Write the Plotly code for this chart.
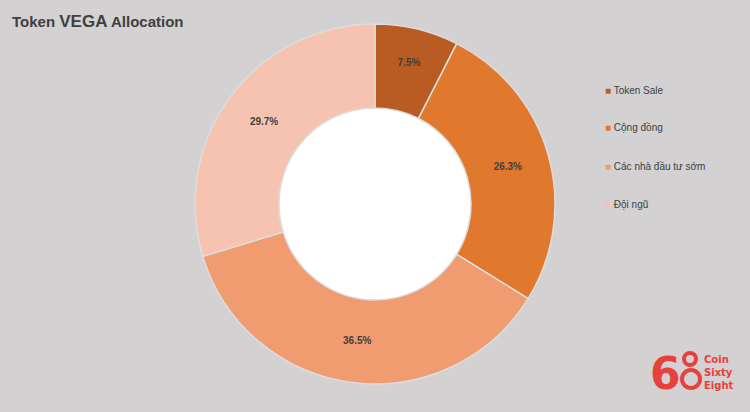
import plotly.graph_objects as go

labels = ["Token Sale", "Cộng đồng", "Các nhà đầu tư sớm", "Đội ngũ"]
values = [7.5, 26.3, 36.5, 29.7]
colors = ["#b85c24", "#e0782d", "#f19b70", "#f6c3b0"]

W, H = 750, 412
cx, cy, r, rh = 375, 204, 180, 96


def px(x):
    return x / W


def py(y):
    return (H - y) / H


fig = go.Figure(go.Pie(
    labels=labels, values=values, sort=False, direction="clockwise", rotation=0,
    hole=rh / r, marker=dict(colors=colors, line=dict(color="#dddddd", width=1.5)),
    texttemplate="<b>%{value:.1f}%</b>", textposition="inside", insidetextorientation="horizontal",
    textfont=dict(family="Liberation Sans", size=10, color="#404040"),
    showlegend=False, hoverinfo="skip",
    domain=dict(x=[px(cx - r), px(cx + r)], y=[py(cy + r), py(cy - r)]),
))

# white centre
fig.add_shape(type="circle", xref="paper", yref="paper", layer="below",
              x0=px(cx - rh), x1=px(cx + rh), y0=py(cy + rh), y1=py(cy - rh),
              fillcolor="white", line=dict(width=0))

# legend drawn by hand for the wide spacing
for i, (lab, col) in enumerate(zip(labels, colors)):
    fig.add_annotation(xref="paper", yref="paper", x=px(603), y=py(90 + i * 38),
                       xanchor="left", yanchor="middle", showarrow=False,
                       text=f"<span style='color:{col}'>■</span> {lab}",
                       font=dict(family="Liberation Sans", size=10, color="#404040"))

fig.add_annotation(xref="paper", yref="paper", x=px(10), y=py(22), xanchor="left",
                   yanchor="middle", showarrow=False,
                   text="<b>Token <span style='font-size:17px'>VEGA</span> Allocation</b>",
                   font=dict(family="Liberation Sans", size=15, color="#404040"))

# logo
red = "#e8403a"
fig.add_annotation(xref="paper", yref="paper", x=px(648), y=py(373), xanchor="left",
                   yanchor="middle", showarrow=False, text="<b>6</b>",
                   font=dict(family="DejaVu Sans", size=44, color=red))
for (ox, oy, rr) in [(690, 359, 6), (691, 379, 9)]:
    fig.add_shape(type="circle", xref="paper", yref="paper",
                  x0=px(ox - rr), x1=px(ox + rr), y0=py(oy + rr), y1=py(oy - rr),
                  line=dict(color=red, width=4))
fig.add_annotation(xref="paper", yref="paper", x=px(702), y=py(372), xanchor="left",
                   yanchor="middle", showarrow=False, text="<b>Coin<br>Sixty<br>Eight</b>", align="left",
                   font=dict(family="DejaVu Sans", size=10, color=red))

fig.update_layout(width=W, height=H, margin=dict(l=0, r=0, t=0, b=0),
                  paper_bgcolor="#d3d1d1", plot_bgcolor="#d3d1d1")
fig.write_html("out.html", config={"displayModeBar": False},
               post_script="document.body.style.margin='0';")
